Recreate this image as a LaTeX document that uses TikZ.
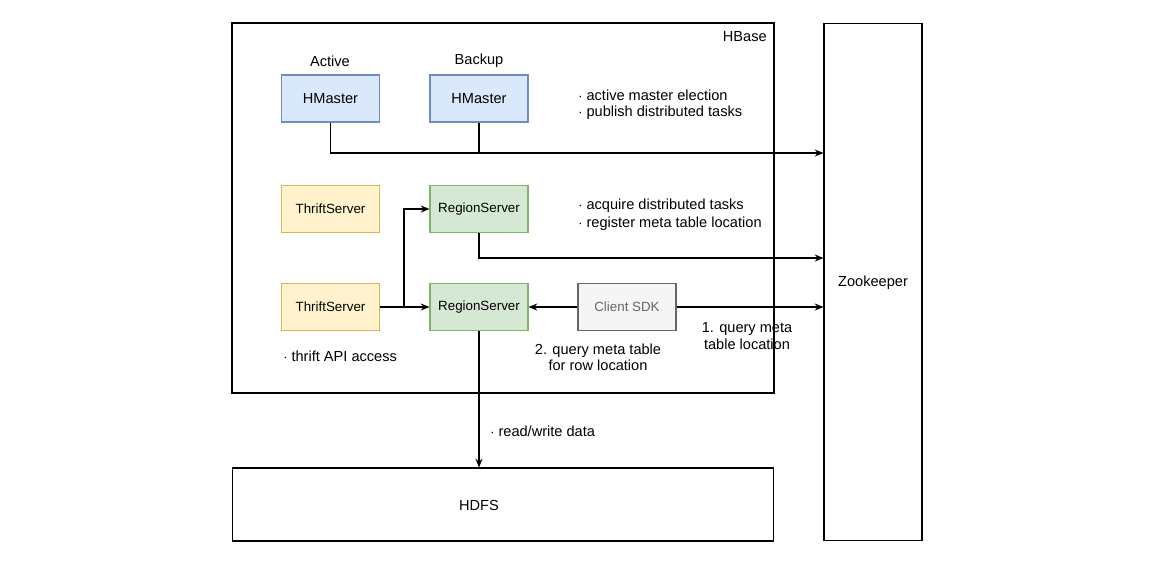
\documentclass[tikz,border=0pt]{standalone}
\usepackage{fontspec}
\setmainfont{Liberation Sans}
\usetikzlibrary{arrows.meta}
\definecolor{bf}{HTML}{DAE8FC}\definecolor{bs}{HTML}{6C8EBF}
\definecolor{yf}{HTML}{FFF2CC}\definecolor{ys}{HTML}{D6B656}
\definecolor{gf}{HTML}{D5E8D4}\definecolor{gs}{HTML}{82B366}
\definecolor{cf}{HTML}{F5F5F5}\definecolor{cs}{HTML}{666666}
\begin{document}
\begin{tikzpicture}[x=0.02cm,y=-0.02cm,
  box/.style={draw,line width=0.6pt,minimum width=1.96cm,minimum height=0.94cm,inner sep=0pt,font=\fontsize{7.6}{9}\selectfont},
  frame/.style={draw,line width=0.6pt},
  txt/.style={font=\fontsize{8.3}{10}\selectfont,inner sep=0pt},
  arr/.style={-{Stealth[length=5pt,width=4pt]},line width=0.6pt}]
\useasboundingbox (0,0) rectangle (1166,562);
\draw[frame] (232,23) rectangle (774,393);
\node[txt,anchor=north east] (hb) at (767,31) {HBase};
\node[frame,minimum width=1.96cm,minimum height=10.36cm,inner sep=0pt] (zk) at (873,282) {};
\node[txt] at (873,283) {Zookeeper};
\node[frame,minimum width=10.84cm,minimum height=1.46cm,inner sep=0pt] (hdfs) at (503,504.5) {};
\node[txt] at (479,505) {HDFS};
\node[box,fill=bf,draw=bs] (hm1) at (330.5,98.5) {\fontsize{8.3}{10}\selectfont HMaster};
\node[box,fill=bf,draw=bs] (hm2) at (479,98.5) {\fontsize{8.3}{10}\selectfont HMaster};
\node[txt] at (330,61) {Active};
\node[txt] at (479,61) {Backup};
\node[box,fill=yf,draw=ys] (ts1) at (330.5,209) {ThriftServer};
\node[box,fill=gf,draw=gs] (rs1) at (479,209) {RegionServer};
\node[box,fill=yf,draw=ys] (ts2) at (330.5,307) {ThriftServer};
\node[box,fill=gf,draw=gs] (rs2) at (479,307) {RegionServer};
\node[box,fill=cf,draw=cs,text=cs] (sdk) at (627,307) {Client SDK};
\node[txt,anchor=west] at (578,95) {$\cdot$ active master election};
\node[txt,anchor=west] at (578,113) {$\cdot$ publish distributed tasks};
\node[txt,anchor=west] at (578,206) {$\cdot$ acquire distributed tasks};
\node[txt,anchor=west] at (578,224) {$\cdot$ register meta table location};
\node[txt,anchor=west] at (283,356) {$\cdot$ thrift API access};
\node[txt,align=center,font=\fontsize{8.3}{9.3}\selectfont] at (598,357) {2. query meta table\\for row location};
\node[txt,align=center,font=\fontsize{8.3}{9.3}\selectfont] at (747,336) {1. query meta\\table location};
\node[txt,anchor=west] at (490,431) {$\cdot$ read/write data};
\coordinate (j1) at (479,153);
\draw[line width=0.6pt] (hm1.south) |- (j1);
\draw[arr] (hm2.south) |- (zk.west |- j1);
\draw[arr] (rs1.south) |- (zk.west |- 0,258);
\draw[arr] (ts2) -- (rs2);
\coordinate (sp) at (404,307);
\draw[arr] (sp) |- (rs1.west);
\draw[arr] (sdk) -- (rs2);
\draw[arr] (sdk) -- (zk.west |- sdk);
\draw[arr] (rs2) -- (hdfs.north -| rs2);
\end{tikzpicture}
\end{document}
